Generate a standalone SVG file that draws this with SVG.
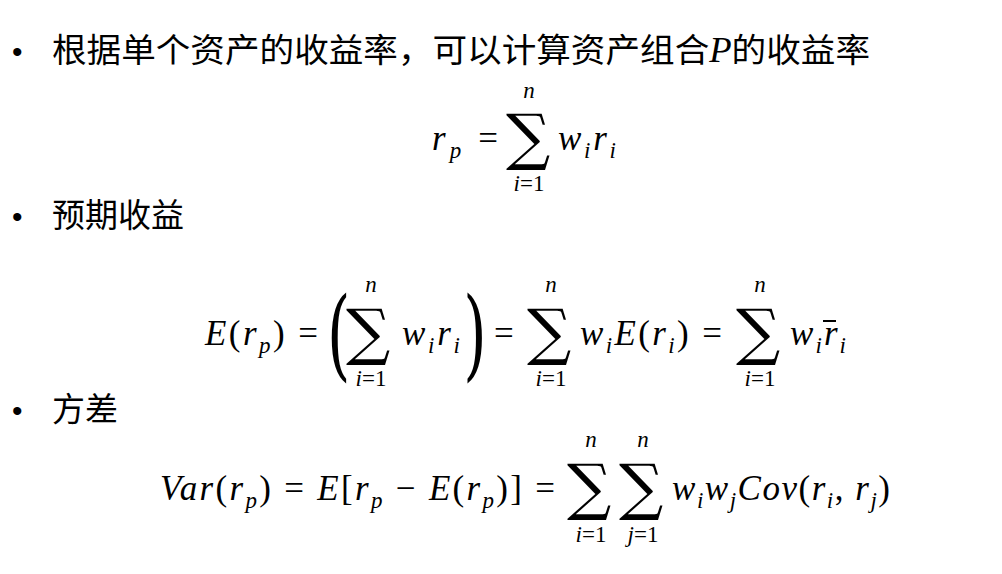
<svg xmlns="http://www.w3.org/2000/svg" width="1002" height="574" viewBox="0 0 1002 574">
<style>
.t{font-family:"Noto Sans CJK SC","Noto Sans",sans-serif;font-size:33px;fill:#000}
.b{font-family:"Liberation Sans",sans-serif;font-size:30px;fill:#000}
.m{font-family:"Liberation Serif","DejaVu Serif",serif;font-style:italic;font-size:35px;fill:#000}
.s{font-size:23px}
.u{font-style:normal}
.S{font-family:"DejaVu Serif",serif;font-size:62px;fill:#000}
.l{font-family:"Liberation Serif",serif;font-style:italic;font-size:23px;fill:#000;text-anchor:middle}
.p{font-family:"DejaVu Serif",serif;font-size:100px;fill:#000}
</style>
<rect width="1002" height="574" fill="#fff"/>
<g id="bullets">
<text class="b" x="12" y="62">•</text>
<text class="b" x="12" y="227">•</text>
<text class="b" x="12" y="421">•</text>
</g>
<g id="text1"><text class="t" x="52" y="62" textLength="818" lengthAdjust="spacingAndGlyphs">根据单个资产的收益率，可以计算资产组合<tspan class="m" font-size="31">P</tspan>的收益率</text></g>
<g id="text2"><text class="t" x="52" y="227">预期收益</text></g>
<g id="text3"><text class="t" x="52" y="421">方差</text></g>
<g id="f1">
<text class="m" x="432" y="150" textLength="66" lengthAdjust="spacing">r<tspan class="s" dy="8">p</tspan><tspan dy="-8" class="u"> =</tspan></text>
<text class="S" x="506" y="158">∑</text>
<text class="l" x="529" y="98">n</text>
<text class="l" x="529" y="191">i<tspan class="u">=1</tspan></text>
<text class="m" x="558" y="150" textLength="58" lengthAdjust="spacing">w<tspan class="s" dy="8">i</tspan><tspan dy="-8">r</tspan><tspan class="s" dy="8">i</tspan></text>
</g>
<g id="f2">
<text class="m" x="205" y="345" textLength="113" lengthAdjust="spacing">E<tspan class="u">(</tspan>r<tspan class="s" dy="8">p</tspan><tspan class="u" dy="-8">) =</tspan></text>
<text class="p" x="545" y="368" transform="scale(0.6,1)">(</text>
<text class="S" x="346" y="353">∑</text>
<text class="l" x="371" y="292">n</text>
<text class="l" x="371" y="386">i<tspan class="u">=1</tspan></text>
<text class="m" x="402" y="345" textLength="58" lengthAdjust="spacing">w<tspan class="s" dy="8">i</tspan><tspan dy="-8">r</tspan><tspan class="s" dy="8">i</tspan></text>
<text class="p" x="772" y="368" transform="scale(0.6,1)">)</text>
<text class="m" x="494" y="345"><tspan class="u">=</tspan></text>
<text class="S" x="527" y="353">∑</text>
<text class="l" x="551" y="292">n</text>
<text class="l" x="551" y="386">i<tspan class="u">=1</tspan></text>
<text class="m" x="580" y="345" textLength="142" lengthAdjust="spacing">w<tspan class="s" dy="8">i</tspan><tspan dy="-8">E</tspan><tspan class="u">(</tspan>r<tspan class="s" dy="8">i</tspan><tspan class="u" dy="-8">) =</tspan></text>
<text class="S" x="736" y="353">∑</text>
<text class="l" x="760" y="292">n</text>
<text class="l" x="760" y="386">i<tspan class="u">=1</tspan></text>
<text class="m" x="790" y="345" textLength="56" lengthAdjust="spacing">w<tspan class="s" dy="8">i</tspan><tspan dy="-8">r</tspan><tspan class="s" dy="8">i</tspan></text>
<line x1="823" y1="321" x2="836" y2="321" stroke="#000" stroke-width="2"/>
</g>
<g id="f3">
<text class="m" x="160" y="500" textLength="395" lengthAdjust="spacing">Var<tspan class="u">(</tspan>r<tspan class="s" dy="8">p</tspan><tspan class="u" dy="-8">) = </tspan>E<tspan class="u">[</tspan>r<tspan class="s" dy="8">p</tspan><tspan class="u" dy="-8"> − </tspan>E<tspan class="u">(</tspan>r<tspan class="s" dy="8">p</tspan><tspan class="u" dy="-8">)] =</tspan></text>
<text class="S" x="567" y="508">∑</text>
<text class="l" x="591" y="447">n</text>
<text class="l" x="591" y="542">i<tspan class="u">=1</tspan></text>
<text class="S" x="619" y="508">∑</text>
<text class="l" x="643" y="447">n</text>
<text class="l" x="643" y="542">j<tspan class="u">=1</tspan></text>
<text class="m" x="672" y="500" textLength="218" lengthAdjust="spacing">w<tspan class="s" dy="8">i</tspan><tspan dy="-8">w</tspan><tspan class="s" dy="8">j</tspan><tspan dy="-8">Cov</tspan><tspan class="u">(</tspan>r<tspan class="s" dy="8">i</tspan><tspan class="u" dy="-8">, </tspan>r<tspan class="s" dy="8">j</tspan><tspan class="u" dy="-8">)</tspan></text>
</g>
<g id="connectors"/>
</svg>
